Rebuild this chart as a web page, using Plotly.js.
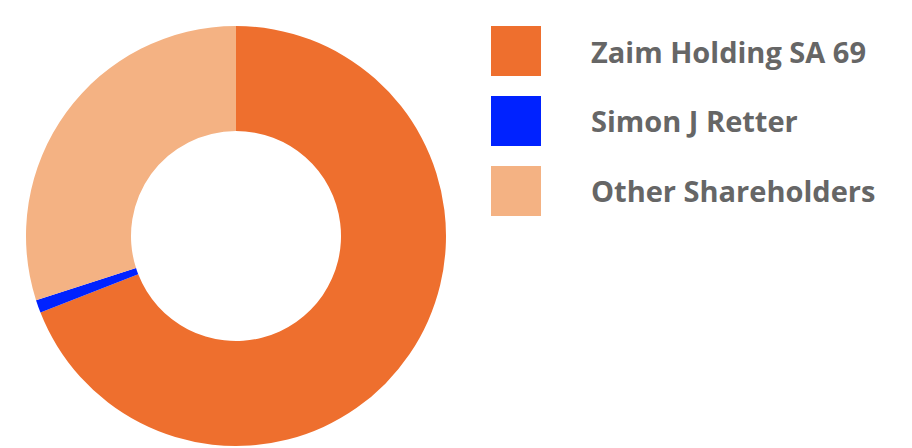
<!DOCTYPE html>
<html><head><meta charset="utf-8">
<script src="https://cdn.plot.ly/plotly-3.0.1.min.js"></script>
<style>html,body{margin:0;padding:0;background:#fff}#chart{width:912px;height:448px}</style>
</head><body><div id="chart"></div>
<script>
const labels = ["Zaim Holding SA 69", "Simon J Retter", "Other Shareholders"];
const values = [69.06, 1.0, 29.94];
const colors = ["#EE6F2E", "#0022FF", "#F4B283"];

const trace = {
  type: "pie",
  labels: labels,
  values: values,
  hole: 0.5,
  sort: false,
  direction: "clockwise",
  rotation: 0,
  textinfo: "none",
  hoverinfo: "label+percent",
  marker: {colors: colors, line: {width: 0}},
  domain: {x: [0, 472/912], y: [0, 1]},
  showlegend: false
};

const shapes = [];
const annotations = [];
labels.forEach((lab, i) => {
  const top = 26 + i * 70;
  shapes.push({
    type: "rect", xref: "paper", yref: "paper",
    x0: 491/912, x1: 541/912,
    y0: 1 - (top + 50 - 26) / 420, y1: 1 - (top - 26) / 420,
    fillcolor: colors[i], line: {width: 0}
  });
  annotations.push({
    xref: "paper", yref: "paper",
    x: 589/912, y: 1 - (top + 25 - 26) / 420,
    xanchor: "left", yanchor: "middle", showarrow: false,
    text: lab,
    font: {family: "Open Sans", size: 29, color: "#666666", weight: 700}
  });
});

const layout = {
  width: 912, height: 448,
  margin: {l: 0, r: 0, t: 26, b: 2},
  paper_bgcolor: "#ffffff",
  shapes: shapes,
  annotations: annotations
};
Plotly.newPlot("chart", [trace], layout, {displayModeBar: false, staticPlot: true});
</script></body></html>
